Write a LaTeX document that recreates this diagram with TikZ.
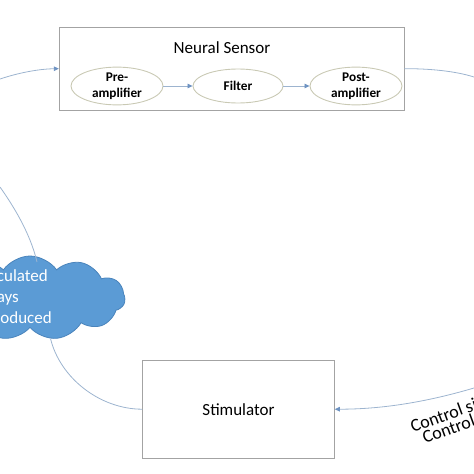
\documentclass[tikz,border=0pt]{standalone}
\usepackage{fontspec}
\setmainfont{Carlito}
\usetikzlibrary{arrows.meta,shapes.geometric,shapes.symbols}
\definecolor{linec}{HTML}{9DB4CF}
\definecolor{tipc}{HTML}{6E93C2}
\definecolor{boxc}{HTML}{A3A3A3}
\definecolor{ellc}{HTML}{C9C9B4}
\definecolor{cloudf}{HTML}{5B9BD5}
\definecolor{cloudd}{HTML}{4A84BC}
\tikzset{
  conn/.style={draw=linec, line width=0.8pt},
  tipped/.style={conn, -{Triangle[length=5pt,width=4.5pt,color=tipc]}},
  sqbox/.style={draw=boxc, line width=0.9pt, rectangle, inner sep=0pt},
  ell/.style={ellipse, draw=ellc, line width=0.9pt, inner sep=0pt, minimum height=34pt,
    align=center, font=\bfseries\fontsize{13.3}{16}\selectfont},
  bigtxt/.style={font=\fontsize{17}{20}\selectfont, inner sep=0pt},
  cloudtxt/.style={font=\fontsize{17}{20}\selectfont, text=white, inner sep=0pt, anchor=base east},
  ctrltxt/.style={font=\fontsize{18}{20}\selectfont, inner sep=0pt, anchor=base west, rotate=20},
}
\begin{document}
\begin{tikzpicture}[x=1pt,y=-1pt]
\useasboundingbox (0,0) rectangle (474,474);
\clip (0,0) rectangle (474,474);
% Neural sensor box
\node[sqbox, minimum width=344.7pt, minimum height=82.7pt] (ns) at (231.65,68.65) {};
\node[bigtxt] (nst) at (222,47.5) {Neural Sensor};
\node[ell, minimum width=92pt] (pre) at (117,86) {Pre-\\amplifier};
\node[ell, minimum width=90pt] (filt) at (238,86) {Filter};
\node[ell, minimum width=92pt] (post) at (356,86) {Post-\\amplifier};
\draw[tipped] (pre) -- (filt);
\draw[tipped] (filt) -- (post);
% incoming / outgoing curves
\coordinate (lin) at (0,79);
\draw[tipped] (lin) .. controls (18,73) and (38,69) .. (ns.west);
\coordinate (rout) at (474,77);
\draw[conn] (ns.east) .. controls (430,68.65) and (455,71) .. (rout);
% cloud
\node[cloud, cloud puffs=11, cloud puff arc=110, aspect=2.3, minimum width=190pt, minimum height=84pt,
  fill=cloudf, draw=cloudd, line width=0.8pt] (cl) at (30,298) {};
\node[cloudtxt] (c1) at (48,281) {culated};
\node[cloudtxt] (c2) at (19,302) {ays};
\node[cloudtxt] (c3) at (52,323) {oduced};
\coordinate (lt) at (0,187);
\coordinate (ctop) at (37,262);
\draw[conn] (lt) .. controls (12,204) and (30,232) .. (ctop);
% stimulator
\node[sqbox, minimum width=191.6pt, minimum height=98.3pt] (stim) at (238.5,409.2) {};
\node[bigtxt] (stimt) at (238.5,409.2) {Stimulator};
\coordinate (cbot) at (50.5,338.5);
\draw[conn] (cbot) .. controls (60,378) and (100,409.2) .. (stim.west);
% control
\coordinate (cr) at (474,388);
\draw[tipped] (cr) .. controls (430,401) and (385,409.2) .. (stim.east);
\node[ctrltxt] (ct1) at (413,433) {Control si};
\node[ctrltxt] (ct2) at (425,444) {Control};
\end{tikzpicture}
\end{document}
